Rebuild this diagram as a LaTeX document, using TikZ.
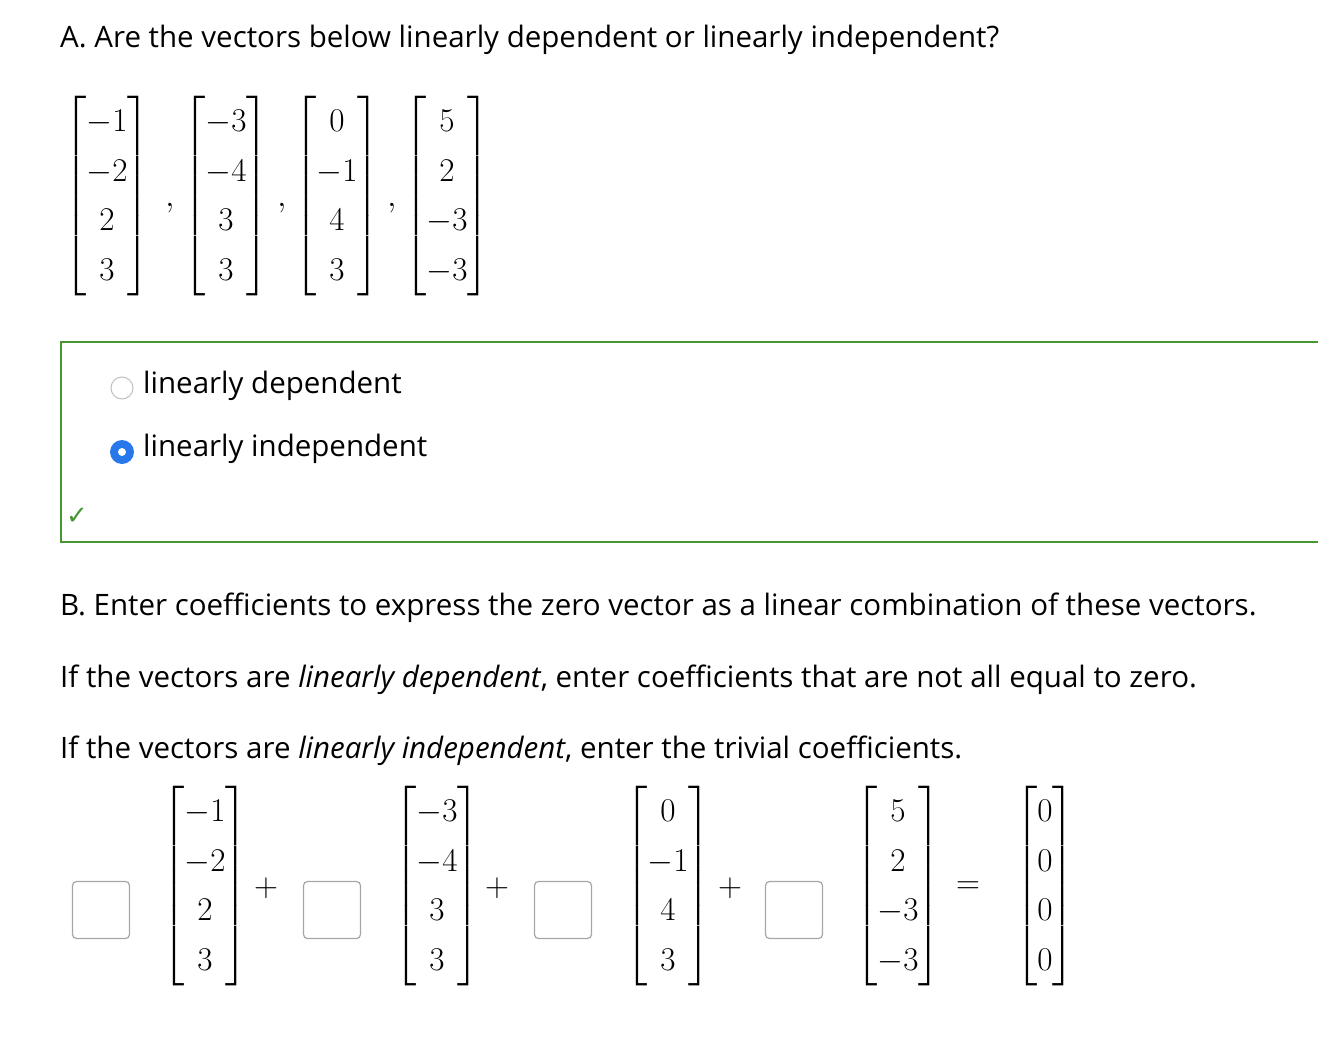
\documentclass[tikz,border=0pt]{standalone}
\usepackage{graphicx}
\usepackage{amsmath}
\usepackage{fontspec}
\setmainfont{Open Sans}
\newfontfamily\dejavu{DejaVu Sans}
\definecolor{okgreen}{RGB}{70,150,50}
\definecolor{radioblue}{RGB}{40,120,235}
\tikzset{
  txt/.style={anchor=west,inner sep=0pt,font=\fontsize{29.5}{34}\selectfont},
  vec/.style={inner sep=0pt,font=\fontsize{20}{24}\selectfont},
  inbox/.style={draw=gray!70,line width=1.2pt,rounded corners=4pt,minimum width=57pt,minimum height=57pt,inner sep=0pt},
  op/.style={inner sep=0pt,font=\fontsize{20}{24}\selectfont}
}
\newcommand{\mycol}[4]{\scalebox{1.6}{$\renewcommand\arraystretch{1.3}\setlength\arraycolsep{2pt}\begin{bmatrix}#1\\#2\\#3\\#4\end{bmatrix}$}}
\newcommand{\bigop}[1]{\scalebox{1.6}{$#1$}}
\begin{document}
\begin{tikzpicture}[x=1pt,y=-1pt]
\useasboundingbox (0,0) rectangle (1318,1044);
\node[txt] (ta) at (60,40) {A. Are the vectors below linearly dependent or linearly independent?};
\node[vec] (a1) at (107,196) {\mycol{-1}{-2}{2}{3}};
\node[vec] (a2) at (226,196) {\mycol{-3}{-4}{3}{3}};
\node[vec] (a3) at (337,196) {\mycol{0}{-1}{4}{3}};
\node[vec] (a4) at (447,196) {\mycol{5}{2}{-3}{-3}};
\node[op] (c1) at (170,208) {\bigop{,}};
\node[op] (c2) at (282,208) {\bigop{,}};
\node[op] (c3) at (392,208) {\bigop{,}};
\draw[okgreen,line width=1.3pt] (1320,342) -- (61,342) -- (61,542) -- (1320,542);
\node[draw=gray!50,line width=1pt,circle,minimum size=22pt,inner sep=0pt] (r1) at (122,388) {};
\node[txt] (l1) at (143,386) {linearly dependent};
\node[fill=radioblue,circle,minimum size=24pt,inner sep=0pt] (r2) at (122,452) {};
\node[fill=white,circle,minimum size=8pt,inner sep=0pt] (r2c) at (r2) {};
\node[txt] (l2) at (143,449) {linearly independent};
\node[okgreen,inner sep=0pt,font=\fontsize{26}{30}\selectfont\dejavu] (ck) at (77,516) {✓};
\node[txt] (tb1) at (60,608) {B. Enter coefficients to express the zero vector as a linear combination of these vectors.};
\node[txt] (tb2) at (60,680) {If the vectors are \textit{linearly dependent}, enter coefficients that are not all equal to zero.};
\node[txt] (tb3) at (60,751) {If the vectors are \textit{linearly independent}, enter the trivial coefficients.};
\node[inbox] (b1) at (101,910) {};
\node[inbox] (b2) at (332,910) {};
\node[inbox] (b3) at (563,910) {};
\node[inbox] (b4) at (794,910) {};
\node[vec] (v1) at (205,886) {\mycol{-1}{-2}{2}{3}};
\node[vec] (v2) at (437,886) {\mycol{-3}{-4}{3}{3}};
\node[vec] (v3) at (668,886) {\mycol{0}{-1}{4}{3}};
\node[vec] (v4) at (898,886) {\mycol{5}{2}{-3}{-3}};
\node[vec] (v5) at (1045,886) {\mycol{0}{0}{0}{0}};
\node[op] (p1) at (266,888) {\bigop{+}};
\node[op] (p2) at (497,888) {\bigop{+}};
\node[op] (p3) at (730,888) {\bigop{+}};
\node[op] (eq) at (968,888) {\bigop{=}};
\end{tikzpicture}
\end{document}
